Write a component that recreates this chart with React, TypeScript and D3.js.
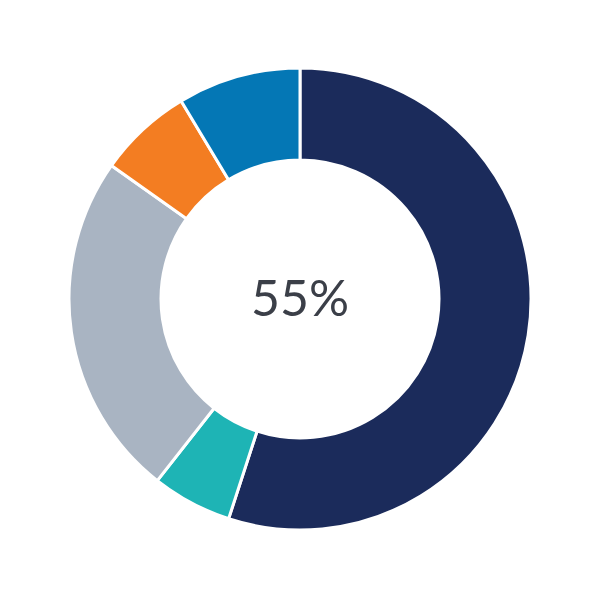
import React, { useEffect, useRef } from 'react';
import * as d3 from 'd3';

// slices, clockwise from 12 o'clock
const labels = ['Navy', 'Teal', 'Gray', 'Orange', 'Blue'];
const values = [55, 5.6, 24.2, 6.6, 8.6];
const colors = ['#1b2b5b', '#1eb4b5', '#a9b4c2', '#f37d22', '#0477b5'];
const centerLabel = '55%';

const width = 600;
const height = 599;

export default function App() {
  const ref = useRef<SVGSVGElement>(null);

  useEffect(() => {
    const svg = d3.select(ref.current);
    svg.selectAll('*').remove();

    const cx = 300, cy = 299;
    const outer = 231, inner = 139;

    const pie = d3.pie<number>().sort(null).value(d => d);
    const arc = d3.arc<d3.PieArcDatum<number>>()
      .innerRadius(inner)
      .outerRadius(outer);

    const g = svg.append('g')
      .attr('transform', 'translate(' + cx + ',' + cy + ')');

    g.selectAll('path')
      .data(pie(values))
      .enter().append('path')
        .attr('d', arc)
        .attr('fill', (d, i) => colors[i])
        .attr('stroke', '#fff')
        .attr('stroke-width', 3)
        .append('title').text((d, i) => labels[i]);

    g.append('text')
      .attr('text-anchor', 'middle')
      .attr('y', 17)
      .style('font-family', 'Lato, sans-serif')
      .style('font-weight', 400)
      .style('font-size', '50px')
      .style('fill', '#3b3f48')
      .text(centerLabel);
  }, []);

  return (
    <svg ref={ref} width={width} height={height}
      style={{ position: 'absolute', left: 0, top: 0, background: '#fff' }} />
  );
}
